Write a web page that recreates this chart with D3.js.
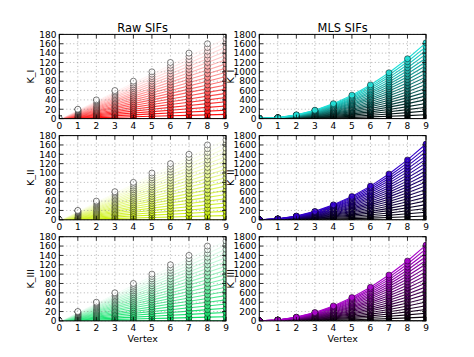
<!DOCTYPE html>
<html><head><meta charset="utf-8">
<script src="https://cdn.jsdelivr.net/npm/d3@7"></script>
<style>body{margin:0;background:#fff}svg{display:block}text{font-family:"DejaVu Sans",sans-serif;fill:#000}</style>
</head><body>
<script>
const vertices = [0,1,2,3,4,5,6,7,8,9];
const rawPeak = [0,20,40,60,80,100,120,140,160,180];
const mlsPeak = [0,20,80,180,320,500,720,980,1280,1620];
const seriesShare = [0,0.05,0.1,0.15,0.2,0.25,0.3,0.35,0.4,0.45,0.5,0.55,0.6,0.65,0.7,0.75,0.8,0.85,0.9,0.95,1];
const xTicks = [0,1,2,3,4,5,6,7,8,9];
const rawTicks = [0,20,40,60,80,100,120,140,160,180];
const mlsTicks = [0,200,400,600,800,1000,1200,1400,1600,1800];
const columnTitles = ["Raw SIFs","MLS SIFs"];
const rowLabels = ["K_I","K_II","K_III"];
const rawColors = ["#ff0000","#c8f000","#00e060"];
const mlsColors = ["#20e0d8","#3300cc","#aa00cc"];
const xLabel = "Vertex";

const W = 474, H = 357;
const colX = [59.3, 259.3], pw = 166.7;
const rowY = [34.4, 135.6, 236.7], ph = 84.2;

const svg = d3.select("body").append("svg").attr("width", W).attr("height", H);
const defs = svg.append("defs");

function panel(ci, ri) {
  const x0 = colX[ci], y0 = rowY[ri];
  const raw = ci === 0;
  const peak = raw ? rawPeak : mlsPeak;
  const ticks = raw ? rawTicks : mlsTicks;
  const xs = d3.scaleLinear().domain([0, 9]).range([x0, x0 + pw]);
  const ys = d3.scaleLinear().domain([0, raw ? 180 : 1800]).range([y0 + ph, y0]);
  const id = "clip" + ci + ri;
  defs.append("clipPath").attr("id", id).append("rect")
    .attr("x", x0).attr("y", y0).attr("width", pw).attr("height", ph);
  const base = raw ? rawColors[ri] : mlsColors[ri];
  const col = t => raw ? d3.interpolateRgb(base, "#ffffff")(t) : d3.interpolateRgb("#000000", base)(t);

  const g = svg.append("g").attr("clip-path", `url(#${id})`);
  const line = d3.line().x(d => xs(d[0])).y(d => ys(d[1]));
  seriesShare.forEach((s) => {
    const pts = vertices.map((v, i) => [v, peak[i] * s]);
    const c = col(s);
    g.append("path").attr("d", line(pts)).attr("fill", "none").attr("stroke", c).attr("stroke-width", 1.1);
    g.selectAll(null).data(pts).join("circle")
      .attr("cx", d => xs(d[0])).attr("cy", d => ys(d[1])).attr("r", 3)
      .attr("fill", c).attr("stroke", "#000").attr("stroke-width", 0.5);
  });

  const grid = svg.append("g").attr("stroke", "#808080").attr("stroke-width", 0.6).attr("stroke-dasharray", "1,2.5");
  xTicks.forEach(v => grid.append("line").attr("x1", xs(v)).attr("x2", xs(v)).attr("y1", y0).attr("y2", y0 + ph));
  ticks.forEach(v => grid.append("line").attr("x1", x0).attr("x2", x0 + pw).attr("y1", ys(v)).attr("y2", ys(v)));

  svg.append("rect").attr("x", x0).attr("y", y0).attr("width", pw).attr("height", ph)
    .attr("fill", "none").attr("stroke", "#000").attr("stroke-width", 1);
  const tk = svg.append("g").attr("stroke", "#000").attr("stroke-width", 0.8);
  xTicks.forEach(v => {
    tk.append("line").attr("x1", xs(v)).attr("x2", xs(v)).attr("y1", y0 + ph).attr("y2", y0 + ph - 4);
    tk.append("line").attr("x1", xs(v)).attr("x2", xs(v)).attr("y1", y0).attr("y2", y0 + 4);
  });
  ticks.forEach(v => {
    tk.append("line").attr("x1", x0).attr("x2", x0 + 4).attr("y1", ys(v)).attr("y2", ys(v));
    tk.append("line").attr("x1", x0 + pw).attr("x2", x0 + pw - 4).attr("y1", ys(v)).attr("y2", ys(v));
  });

  const ly = y0 + ph / 2, lx = x0 - 25.8;
  svg.append("text").attr("transform", `translate(${lx},${ly}) rotate(-90)`)
    .attr("text-anchor", "middle").attr("font-size", 9.5).text(rowLabels[ri]);

  const tl = svg.append("g").attr("font-size", 9);
  ticks.forEach(v => tl.append("text").attr("x", x0 - 2.8).attr("y", ys(v) + 3.3)
    .attr("text-anchor", "end").text(v));
  xTicks.forEach(v => tl.append("text").attr("x", xs(v)).attr("y", y0 + ph + 10.3)
    .attr("text-anchor", "middle").text(v));

  if (ri === 0) svg.append("text").attr("x", x0 + pw / 2).attr("y", y0 - 2.3)
    .attr("text-anchor", "middle").attr("font-size", 11.4).text(columnTitles[ci]);
  if (ri === 2) svg.append("text").attr("x", x0 + pw / 2).attr("y", y0 + ph + 20.8)
    .attr("text-anchor", "middle").attr("font-size", 9.5).text(xLabel);
}

for (let ri = 0; ri < 3; ri++) for (let ci = 0; ci < 2; ci++) panel(ci, ri);
</script>
</body></html>
